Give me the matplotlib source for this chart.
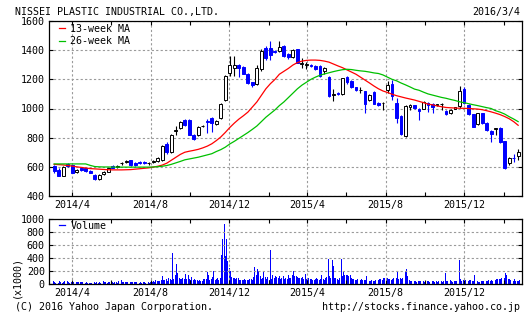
import datetime as dt
import numpy as np
import matplotlib
matplotlib.use("Agg")
import matplotlib.pyplot as plt
import matplotlib.dates as mdates
from matplotlib.lines import Line2D

# weekly candles, first week starts 2014-03-03
opens = [605, 580, 540, 620, 610, 562, 595, 590, 570, 545, 515, 548, 568, 603, 596, 625, 635, 645, 625, 636,
         635, 624, 635, 640, 645, 760, 700, 845, 865, 920, 920, 820, 815, 878, 915, 935, 897, 935, 1055, 1245,
         1280, 1300, 1285, 1240, 1180, 1165, 1270, 1418, 1414, 1392, 1395, 1430, 1372, 1350, 1407, 1308, 1300, 1299, 1290, 1290,
         1255, 1218, 1095, 1105, 1100, 1214, 1190, 1145, 1124, 1117, 1057, 1113, 1039, 1035, 1126, 1168, 1041, 949, 811, 1012,
         1021, 998, 998, 1039, 1030, 1025, 1030, 984, 970, 998, 1014, 1137, 1025, 960, 891, 968, 898, 849, 860, 868,
         775, 626, 663, 673]
highs = [615, 590, 605, 625, 615, 585, 600, 595, 575, 550, 550, 572, 595, 610, 610, 632, 648, 650, 630, 640,
         640, 630, 645, 665, 750, 770, 825, 880, 915, 925, 925, 825, 880, 890, 930, 945, 920, 1040, 1230, 1360,
         1360, 1305, 1290, 1245, 1185, 1300, 1410, 1430, 1460, 1400, 1460, 1435, 1378, 1405, 1410, 1345, 1320, 1305, 1295, 1295,
         1285, 1222, 1133, 1110, 1212, 1220, 1195, 1150, 1145, 1120, 1100, 1118, 1045, 1045, 1190, 1195, 1075, 955, 1025, 1030,
         1025, 1005, 1050, 1045, 1035, 1030, 1035, 990, 995, 1010, 1155, 1150, 1030, 965, 970, 972, 905, 855, 865, 872,
         780, 670, 685, 720]
lows = [560, 535, 535, 600, 555, 555, 570, 565, 555, 510, 510, 545, 565, 592, 590, 615, 625, 605, 605, 620,
        620, 615, 625, 635, 640, 690, 695, 820, 860, 880, 815, 785, 810, 870, 835, 840, 890, 930, 1050, 1220,
        1225, 1215, 1235, 1170, 1150, 1160, 1260, 1330, 1330, 1380, 1390, 1355, 1340, 1345, 1310, 1280, 1270, 1285, 1265, 1215,
        1240, 1080, 1053, 1095, 1095, 1170, 1140, 1120, 1105, 972, 1050, 1030, 1015, 990, 1103, 1060, 900, 820, 805, 990,
        995, 921, 995, 975, 970, 1015, 990, 955, 965, 995, 1005, 1030, 955, 870, 885, 895, 845, 770, 817, 765,
        585, 615, 630, 650]
closes = [570, 540, 600, 605, 560, 580, 575, 570, 560, 515, 545, 568, 592, 595, 605, 628, 637, 612, 610, 624,
          625, 626, 637, 660, 745, 700, 820, 850, 910, 885, 820, 790, 875, 882, 905, 900, 915, 1030, 1220, 1295,
          1295, 1280, 1240, 1175, 1160, 1275, 1395, 1345, 1368, 1388, 1423, 1361, 1350, 1400, 1315, 1312, 1303, 1290, 1268, 1223,
          1275, 1087, 1099, 1098, 1208, 1179, 1145, 1126, 1127, 1034, 1094, 1034, 1025, 1038, 1163, 1087, 938, 827, 1018, 1025,
          1002, 984, 1044, 1021, 1007, 1027, 1032, 965, 993, 1007, 1118, 1037, 960, 875, 968, 898, 851, 826, 863, 770,
          589, 659, 660, 705]

ma13 = [617, 615, 613, 609, 605, 600, 596, 592, 588, 586, 584, 582, 580, 579, 579, 579, 580, 581, 584, 587,
        590, 593, 598, 604, 612, 625, 645, 665, 685, 700, 707, 713, 720, 730, 742, 758, 780, 805, 836, 870,
        900, 927, 950, 975, 1010, 1045, 1090, 1135, 1170, 1199, 1235, 1255, 1275, 1298, 1315, 1325, 1330, 1332, 1332, 1330,
        1325, 1318, 1305, 1292, 1280, 1265, 1250, 1235, 1215, 1195, 1175, 1154, 1135, 1120, 1110, 1098, 1088, 1080, 1072, 1065,
        1058, 1049, 1040, 1030, 1025, 1018, 1012, 1007, 1005, 1003, 1002, 1001, 1000, 998, 996, 992, 985, 977, 968, 958,
        945, 930, 910, 885]
ma26 = [620, 620, 620, 620, 620, 620, 620, 620, 610, 602, 600, 599, 599, 598, 598, 598, 598, 598, 598, 598,
        598, 598, 599, 601, 604, 609, 617, 627, 637, 648, 654, 660, 666, 674, 682, 690, 705, 718, 735, 757,
        775, 795, 815, 835, 857, 880, 910, 940, 965, 990, 1020, 1045, 1075, 1105, 1135, 1160, 1180, 1200, 1215, 1228,
        1237, 1245, 1253, 1260, 1266, 1269, 1267, 1262, 1258, 1255, 1250, 1244, 1240, 1230, 1215, 1200, 1190, 1175, 1162, 1148,
        1133, 1125, 1112, 1100, 1092, 1084, 1076, 1070, 1062, 1055, 1046, 1040, 1033, 1026, 1020, 1013, 1006, 1000, 985, 975,
        962, 944, 928, 910]

# daily volume (x1000), one row per week, Mon..Fri
volume = [
    [40, 25, 30, 20, 55], [30, 20, 45, 25, 35], [20, 30, 25, 40, 30], [50, 45, 25, 30, 20], [30, 25, 20, 35, 45],
    [20, 30, 25, 20, 30], [35, 45, 25, 30, 20], [25, 20, 30, 20, 15], [20, 15, 25, 20, 30], [35, 25, 20, 30, 25],
    [20, 25, 30, 20, 15], [30, 45, 25, 20, 30], [20, 25, 35, 25, 30], [40, 25, 20, 30, 25], [30, 20, 25, 45, 20],
    [25, 55, 30, 20, 25], [30, 25, 20, 35, 30], [45, 25, 30, 20, 25], [25, 35, 20, 30, 40], [30, 20, 25, 30, 20],
    [35, 25, 45, 20, 30], [25, 30, 20, 40, 35], [30, 50, 40, 30, 60], [70, 45, 40, 60, 50], [60, 118, 70, 55, 65],
    [60, 75, 50, 65, 90], [70, 60, 90, 482, 80], [419, 140, 305, 120, 170], [90, 80, 144, 70, 100], [210, 80, 154, 90, 70],
    [133, 70, 92, 60, 110], [133, 60, 70, 66, 55], [60, 45, 70, 55, 50], [60, 50, 75, 65, 80], [70, 185, 90, 144, 60],
    [195, 70, 103, 80, 205], [66, 80, 70, 92, 60], [92, 349, 452, 441, 698], [924, 436, 421, 693, 349], [246, 298, 195, 144, 103],
    [90, 85, 100, 80, 90], [90, 70, 60, 75, 66], [60, 66, 50, 70, 55], [65, 75, 60, 55, 70], [80, 60, 90, 110, 262],
    [140, 100, 236, 90, 195], [120, 80, 154, 100, 195], [110, 210, 80, 90, 103], [60, 523, 90, 80, 144], [100, 90, 120, 80, 110],
    [90, 120, 195, 80, 100], [118, 90, 80, 100, 70], [80, 144, 246, 90, 100], [133, 544, 195, 125, 120], [125, 110, 120, 100, 90],
    [100, 90, 110, 80, 70], [154, 80, 90, 70, 85], [70, 60, 80, 55, 65], [60, 70, 50, 85, 75], [65, 55, 80, 133, 60],
    [70, 60, 80, 90, 110], [390, 272, 118, 100, 90], [375, 272, 110, 90, 100], [80, 70, 60, 90, 75], [390, 120, 339, 195, 140],
    [135, 120, 145, 130, 110], [135, 100, 90, 80, 70], [60, 75, 55, 70, 65], [50, 60, 45, 70, 55], [65, 50, 60, 118, 55],
    [55, 45, 60, 50, 65], [50, 60, 45, 55, 70], [65, 55, 60, 80, 70], [60, 75, 90, 85, 100], [575, 90, 118, 80, 70],
    [60, 80, 70, 100, 90], [120, 100, 220, 190, 80], [90, 70, 80, 100, 110], [100, 205, 140, 236, 120], [66, 60, 50, 45, 55],
    [40, 50, 35, 45, 30], [45, 35, 50, 40, 30], [35, 45, 30, 40, 50], [45, 30, 40, 35, 50], [30, 45, 40, 35, 30],
    [40, 50, 30, 45, 35], [35, 40, 30, 50, 45], [170, 60, 50, 40, 35], [45, 60, 40, 50, 35], [40, 35, 50, 45, 40],
    [60, 375, 80, 170, 50], [60, 50, 45, 55, 40], [50, 40, 60, 45, 55], [45, 55, 40, 144, 50], [50, 40, 35, 45, 30],
    [40, 35, 50, 45, 40], [45, 50, 40, 35, 55], [50, 45, 55, 40, 60], [60, 55, 70, 65, 80], [75, 85, 70, 90, 80],
    [90, 100, 170, 80, 144], [70, 60, 80, 55, 65], [60, 50, 70, 55, 45], [50, 60, 45, 55, 70],
]

FONT = "DejaVu Sans Mono"
FS = 7.2
GRID = dict(color="#9a9a9a", linestyle=(0, (2, 2)), linewidth=0.8)


def style_axes(ax):
    ax.xaxis.set_major_locator(mdates.MonthLocator(bymonth=[4, 8, 12]))
    ax.xaxis.set_minor_locator(mdates.MonthLocator(bymonth=[2, 6, 10]))
    ax.xaxis.set_major_formatter(mdates.DateFormatter("%Y/%-m"))
    ax.tick_params(which="both", direction="in", top=True, right=True, length=3,
                   width=0.8, labelsize=FS, pad=3)
    ax.grid(True, which="major", **GRID)
    for lab in ax.get_xticklabels() + ax.get_yticklabels():
        lab.set_fontfamily(FONT)
    for sp in ax.spines.values():
        sp.set_linewidth(0.9)


def main():
    plt.rcParams["font.family"] = [FONT]
    fig = plt.figure(figsize=(5.29, 3.2), dpi=100)

    start = dt.date(2014, 3, 3)
    week_start = [start + dt.timedelta(days=7 * i) for i in range(len(closes))]
    xc = mdates.date2num(week_start) + 1.0
    o = np.array(opens)
    c = np.array(closes)
    up = c >= o

    x0 = mdates.date2num(dt.date(2014, 2, 24))
    x1 = mdates.date2num(dt.date(2016, 2, 29))

    ax = fig.add_axes([49 / 529, 1 - 196 / 320, 473 / 529, 175 / 320])
    ax.vlines(xc[up], np.array(lows)[up], np.array(highs)[up], color="black", lw=0.8, zorder=2)
    ax.vlines(xc[~up], np.array(lows)[~up], np.array(highs)[~up], color="blue", lw=0.8, zorder=2)
    body = np.maximum(np.abs(c - o), 4)
    ax.bar(xc[up], body[up], bottom=np.minimum(o, c)[up], width=4.4,
           facecolor="white", edgecolor="black", linewidth=0.7, zorder=3)
    ax.bar(xc[~up], body[~up], bottom=np.minimum(o, c)[~up], width=4.4,
           facecolor="blue", edgecolor="blue", linewidth=0.7, zorder=3)
    ax.plot(xc, ma13, color="red", lw=0.9, label="13-week MA", zorder=4)
    ax.plot(xc, ma26, color="#00c000", lw=0.9, label="26-week MA", zorder=4)
    ax.set_xlim(x0, x1)
    ax.set_ylim(400, 1600)
    ax.set_yticks(range(400, 1601, 200))
    style_axes(ax)
    ax.legend(loc="upper left", bbox_to_anchor=(0.022, 0.985), frameon=False,
              handlelength=0.6, handletextpad=0.5, labelspacing=0.25, borderpad=0,
              borderaxespad=0, prop={"family": FONT, "size": FS})

    # volume
    vol = np.array(volume)
    days = np.array([[mdates.date2num(w) + d for d in range(5)] for w in week_start])
    axv = fig.add_axes([49 / 529, 1 - 284 / 320, 473 / 529, 65 / 320])
    axv.bar(days.ravel(), vol.ravel(), width=1.0, color="blue", linewidth=0)
    axv.set_xlim(x0, x1)
    axv.set_ylim(0, 1000)
    axv.set_yticks(range(0, 1001, 200))
    style_axes(axv)
    vol_handle = Line2D([], [], color="blue", lw=0.9)
    axv.legend([vol_handle], ["Volume"], loc="upper left", bbox_to_anchor=(0.022, 0.97), frameon=False,
               handlelength=0.6, handletextpad=0.5, borderpad=0, borderaxespad=0,
               prop={"family": FONT, "size": FS})
    fig.text(16.5 / 529, 1 - 277 / 320, "(x1000)", rotation=90, ha="center", va="center",
             fontsize=FS, family=FONT)

    fig.text(15 / 529, 1 - 12.5 / 320, "NISSEI PLASTIC INDUSTRIAL CO.,LTD.", ha="left", va="center",
             fontsize=FS, family=FONT)
    fig.text(520 / 529, 1 - 12.5 / 320, "2016/3/4", ha="right", va="center", fontsize=FS, family=FONT)
    fig.text(15 / 529, 1 - 306.5 / 320, "(C) 2016 Yahoo Japan Corporation.", ha="left", va="center",
             fontsize=FS, family=FONT)
    fig.text(520 / 529, 1 - 306.5 / 320, "http://stocks.finance.yahoo.co.jp", ha="right", va="center",
             fontsize=FS, family=FONT)

    fig.savefig("out.png", dpi=100)


if __name__ == "__main__":
    main()
